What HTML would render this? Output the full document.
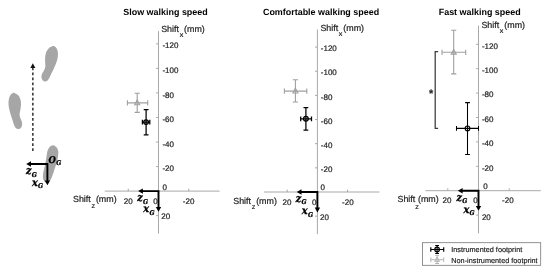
<!DOCTYPE html>
<html lang="en"><head><meta charset="utf-8"><title>Footprint shift by walking speed</title>
<style>
html,body{margin:0;padding:0;background:#fff;}
svg{display:block;text-rendering:geometricPrecision;}
text{font-family:"Liberation Sans",sans-serif;fill:#262626;stroke:#262626;stroke-width:0.22px;}
.t text,.t{font-size:8.0px;}
.l{font-size:8.9px;}
.h{font-size:8.95px;font-weight:bold;fill:#000;stroke:none;}
.g{font-size:7.3px;fill:#111;stroke-width:0.15px;}
.m{font-family:"DejaVu Serif Condensed","DejaVu Serif","Liberation Serif",serif;font-style:italic;font-weight:bold;fill:#000;stroke:#000;stroke-width:0.3px;}
.c{font-family:"DejaVu Serif Condensed","DejaVu Serif","Liberation Serif",serif;}
</style></head><body>
<svg width="550" height="275" viewBox="0 0 550 275">
<rect width="550" height="275" fill="#fff"/>
<!-- footprints and walking direction -->
<path d="M53.26 46.1C52.17 46.27 50.04 47.09 48.86 48.13C47.68 49.17 46.79 50.9 46.18 52.31C45.57 53.73 45.38 55.13 45.2 56.62C45.02 58.11 45.07 59.88 45.09 61.25C45.11 62.61 45.3 63.8 45.32 64.81C45.34 65.82 45.39 66.42 45.19 67.31C44.98 68.21 44.56 69.25 44.1 70.2C43.63 71.14 42.83 72.14 42.41 73C42 73.85 41.75 74.46 41.6 75.31C41.45 76.16 41.32 77.26 41.53 78.12C41.73 78.99 42.25 79.97 42.82 80.52C43.39 81.06 44.19 81.36 44.92 81.4C45.66 81.45 46.47 81.41 47.22 80.8C47.98 80.2 48.79 78.89 49.44 77.77C50.1 76.65 50.52 75.36 51.15 74.06C51.77 72.77 52.57 71.33 53.2 70C53.83 68.67 54.37 67.46 54.93 66.09C55.5 64.72 56.16 63.23 56.62 61.78C57.08 60.33 57.5 58.87 57.71 57.38C57.93 55.9 58.02 54.21 57.91 52.87C57.8 51.53 57.48 50.29 57.07 49.33C56.66 48.37 56.09 47.63 55.45 47.09C54.82 46.56 54.36 45.92 53.26 46.1Z" fill="#a6a6a6"/>
<path d="M14.4 92.9C15.47 93.22 17.47 94.32 18.5 95.5C19.53 96.68 20.18 98.52 20.6 100C21.02 101.48 21.02 102.9 21 104.4C20.98 105.9 20.7 107.65 20.5 109C20.3 110.35 19.95 111.5 19.8 112.5C19.65 113.5 19.52 114.08 19.6 115C19.68 115.92 19.97 117 20.3 118C20.63 119 21.3 120.1 21.6 121C21.9 121.9 22.07 122.53 22.1 123.4C22.13 124.27 22.12 125.37 21.8 126.2C21.48 127.03 20.83 127.93 20.2 128.4C19.57 128.87 18.73 129.05 18 129C17.27 128.95 16.47 128.8 15.8 128.1C15.13 127.4 14.5 126 14 124.8C13.5 123.6 13.25 122.27 12.8 120.9C12.35 119.53 11.75 118 11.3 116.6C10.85 115.2 10.48 113.93 10.1 112.5C9.72 111.07 9.27 109.5 9 108C8.73 106.5 8.52 105 8.5 103.5C8.48 102 8.62 100.32 8.9 99C9.18 97.68 9.67 96.5 10.2 95.6C10.73 94.7 11.4 94.05 12.1 93.6C12.8 93.15 13.33 92.58 14.4 92.9Z" fill="#a6a6a6"/>
<path d="M53.5 145.2C54.38 145.45 55.73 146.4 56.5 147.3C57.27 148.2 57.8 149.57 58.1 150.6C58.4 151.63 58.35 152.27 58.3 153.5C58.25 154.73 58.08 156.42 57.8 158C57.52 159.58 57.08 161.33 56.6 163C56.12 164.67 55.38 166.5 54.9 168C54.42 169.5 54.08 170.83 53.7 172C53.32 173.17 53.02 173.92 52.6 175C52.18 176.08 51.75 177.42 51.2 178.5C50.65 179.58 50.03 180.78 49.3 181.5C48.57 182.22 47.58 182.75 46.8 182.8C46.02 182.85 45.2 182.43 44.6 181.8C44 181.17 43.47 180.13 43.2 179C42.93 177.87 42.93 176.33 43 175C43.07 173.67 43.3 172.5 43.6 171C43.9 169.5 44.43 167.67 44.8 166C45.17 164.33 45.5 162.67 45.8 161C46.1 159.33 46.35 157.58 46.6 156C46.85 154.42 46.9 152.87 47.3 151.5C47.7 150.13 48.35 148.75 49 147.8C49.65 146.85 50.45 146.23 51.2 145.8C51.95 145.37 52.62 144.95 53.5 145.2Z" fill="#a6a6a6"/>
<path d="M32.85 151.0V67" stroke="#2e2e2e" stroke-width="1.5" stroke-dasharray="2.8 2.25" fill="none"/>
<path d="M32.85 63.3l2.5 4.7h-5z" fill="#111"/>
<g stroke="#000" stroke-width="1.9" fill="#000"><path d="M48.35 164H29.2M47.4 164V182.3" fill="none"/><path stroke="none" d="M26.2 164l4.8 -2.7v5.4z"/><path stroke="none" d="M47.4 185.3l-2.7 -4.8h5.4z"/></g>
<text x="48.6" y="163.0" class="m c" font-size="9.4">O<tspan font-size="6.6" dy="2.3" dx="0.3">G</tspan></text>
<text x="26.0" y="174.2" class="m" font-size="10.8">z<tspan font-size="6.6" dy="2.3" dx="0.3">G</tspan></text>
<text x="31.9" y="185.5" class="m" font-size="10.8">x<tspan font-size="6.6" dy="2.3" dx="0.3">G</tspan></text>
<!-- panel 1 -->
<g stroke="#a8a8a8" stroke-width="1" fill="none"><path d="M158.5 31.2V233.6M104.8 191.1H219.6"/><path d="M156.1 43.85H158.5M156.1 68.39H158.5M156.1 92.93H158.5M156.1 117.47H158.5M156.1 142.02H158.5M156.1 166.56H158.5M156.1 215.64H158.5M128.24 188.7V191.1M188.76 188.7V191.1" stroke-width="1"/></g><g class="t"><text x="162.4" y="48.45">-120</text><text x="162.4" y="72.99">-100</text><text x="162.4" y="97.53">-80</text><text x="162.4" y="122.07">-60</text><text x="162.4" y="146.62">-40</text><text x="162.4" y="171.16">-20</text><text x="162.4" y="189.6">0</text><text x="161.3" y="219.4">20</text><text x="128.2" y="203.9" text-anchor="middle">20</text><text x="155.5" y="203.9" text-anchor="middle">0</text><text x="188.6" y="203.9" text-anchor="middle">-20</text></g><text class="l" x="161.2" y="31.75">Shift<tspan font-size="7.1" dy="5" dx="0.7">x</tspan><tspan dy="-5" dx="0.9">(mm)</tspan></text><text class="l" x="73.0" y="202.0">Shift<tspan font-size="7.1" dy="5.5" dx="0.7">z</tspan><tspan dy="-5.5" dx="0.9">(mm)</tspan></text><text class="h" x="165.5" y="15.05" text-anchor="middle">Slow walking speed</text><g stroke="#a0a0a0" stroke-width="1.1" fill="none"><path d="M127.4 102.9H147.7M127.4 100.3V105.5M147.7 100.3V105.5"/><path d="M137.2 93.3V112.4M134.6 93.3H139.8M134.6 112.4H139.8"/><path d="M134.7 104.78L137.2 100.03L139.7 104.78Z"/></g><g stroke="#000" stroke-width="1.25" fill="none"><path d="M142.4 122.1H149.8M142.4 119.7V124.5M149.8 119.7V124.5"/><path d="M146.1 109.6V134.8M143.7 109.6H148.5M143.7 134.8H148.5"/><circle cx="146.1" cy="122.1" r="2.35"/></g><g stroke="#000" stroke-width="1.9" fill="#000"><path d="M159.45 191.1H141.1M158.5 191.1V208.7" fill="none"/><path stroke="none" d="M138.1 191.1l4.8 -2.7v5.4z"/><path stroke="none" d="M158.5 211.7l-2.7 -4.8h5.4z"/></g><text x="137.3" y="201.2" class="m" font-size="10.8">z<tspan font-size="6.6" dy="2.3" dx="0.3">G</tspan></text><text x="143.3" y="212.3" class="m" font-size="10.8">x<tspan font-size="6.6" dy="2.3" dx="0.3">G</tspan></text>
<!-- panel 2 -->
<g stroke="#a8a8a8" stroke-width="1" fill="none"><path d="M317.4 29.4V234.0M264.0 192.0H379.4"/><path d="M315 47.1H317.4M315 71.25H317.4M315 95.4H317.4M315 119.55H317.4M315 143.7H317.4M315 167.85H317.4M315 216.15H317.4M287.24 189.6V192.0M347.56 189.6V192.0" stroke-width="1"/></g><g class="t"><text x="320.8" y="51.3">-120</text><text x="320.8" y="75.45">-100</text><text x="320.8" y="99.6">-80</text><text x="320.8" y="123.75">-60</text><text x="320.8" y="147.9">-40</text><text x="320.8" y="172.05">-20</text><text x="320.6" y="190.2">0</text><text x="320.1" y="220.0">20</text><text x="287.0" y="204.85" text-anchor="middle">20</text><text x="314.2" y="204.85" text-anchor="middle">0</text><text x="347.8" y="204.85" text-anchor="middle">-20</text></g><text class="l" x="320.4" y="31.0">Shift<tspan font-size="7.1" dy="5" dx="0.7">x</tspan><tspan dy="-5" dx="0.9">(mm)</tspan></text><text class="l" x="233.25" y="203.5">Shift<tspan font-size="7.1" dy="5.5" dx="0.7">z</tspan><tspan dy="-5.5" dx="0.9">(mm)</tspan></text><text class="h" x="321.05" y="15.05" text-anchor="middle">Comfortable walking speed</text><g stroke="#a0a0a0" stroke-width="1.1" fill="none"><path d="M284.4 91.1H306.8M284.4 88.5V93.7M306.8 88.5V93.7"/><path d="M295.4 79.8V102M292.8 79.8H298M292.8 102H298"/><path d="M292.9 92.97L295.4 88.22L297.9 92.97Z"/></g><g stroke="#000" stroke-width="1.25" fill="none"><path d="M300.7 118.8H311.5M300.7 116.4V121.2M311.5 116.4V121.2"/><path d="M305.9 107.5V130.2M303.5 107.5H308.3M303.5 130.2H308.3"/><circle cx="305.9" cy="118.8" r="2.35"/></g><g stroke="#000" stroke-width="1.9" fill="#000"><path d="M318.35 192H299.7M317.4 192V209.4" fill="none"/><path stroke="none" d="M296.7 192l4.8 -2.7v5.4z"/><path stroke="none" d="M317.4 212.4l-2.7 -4.8h5.4z"/></g><text x="295.8" y="202.1" class="m" font-size="10.8">z<tspan font-size="6.6" dy="2.3" dx="0.3">G</tspan></text><text x="301.8" y="214.2" class="m" font-size="10.8">x<tspan font-size="6.6" dy="2.3" dx="0.3">G</tspan></text>
<!-- panel 3 -->
<g stroke="#a8a8a8" stroke-width="1" fill="none"><path d="M478.5 25.7V233.3M425.3 190.7H540.8"/><path d="M476.1 44.3H478.5M476.1 68.7H478.5M476.1 93.1H478.5M476.1 117.5H478.5M476.1 141.9H478.5M476.1 166.3H478.5M476.1 215.1H478.5M447.8 188.3V190.7M509.2 188.3V190.7" stroke-width="1"/></g><g class="t"><text x="481.9" y="48.5">-120</text><text x="481.9" y="72.9">-100</text><text x="481.9" y="97.3">-80</text><text x="481.9" y="121.7">-60</text><text x="481.9" y="146.1">-40</text><text x="481.9" y="170.5">-20</text><text x="483.3" y="188.7">0</text><text x="481.9" y="220.0">20</text><text x="447.0" y="203.3" text-anchor="middle">20</text><text x="475.5" y="203.3" text-anchor="middle">0</text><text x="507.9" y="203.3" text-anchor="middle">-20</text></g><text class="l" x="481.4" y="27.5">Shift<tspan font-size="7.1" dy="5" dx="0.7">x</tspan><tspan dy="-5" dx="0.9">(mm)</tspan></text><text class="l" x="397.5" y="202.1">Shift<tspan font-size="7.1" dy="6.5" dx="0.1">z</tspan><tspan dy="-6.5" dx="-0.9">(mm)</tspan></text><text class="h" x="479.7" y="15.1" text-anchor="middle">Fast walking speed</text><g stroke="#a0a0a0" stroke-width="1.1" fill="none"><path d="M442 52.3H465.7M442 49.7V54.9M465.7 49.7V54.9"/><path d="M453.7 30.2V73.9M451.1 30.2H456.3M451.1 73.9H456.3"/><path d="M451.2 54.17L453.7 49.42L456.2 54.17Z"/></g><g stroke="#000" stroke-width="1.05" fill="none"><path d="M456.5 128.4H478.5M456.5 126V130.8M478.5 126V130.8"/><path d="M467.5 102.6V154.4M465.1 102.6H469.9M465.1 154.4H469.9"/><circle cx="467.5" cy="128.4" r="2.35"/></g><g stroke="#000" stroke-width="1.9" fill="#000"><path d="M479.45 190.7H460.8M478.5 190.7V207.7" fill="none"/><path stroke="none" d="M457.8 190.7l4.8 -2.7v5.4z"/><path stroke="none" d="M478.5 210.7l-2.7 -4.8h5.4z"/></g><text x="456.4" y="200.8" class="m" font-size="10.8">z<tspan font-size="6.6" dy="2.3" dx="0.3">G</tspan></text><text x="463.4" y="212.7" class="m" font-size="10.8">x<tspan font-size="6.6" dy="2.3" dx="0.3">G</tspan></text>
<!-- significance bracket -->
<path d="M438.1 51.5H435.2V128.4H438.1" stroke="#3a3a3a" stroke-width="1.25" fill="none"/>
<text x="431.0" y="96.5" text-anchor="middle" font-size="10.8" font-weight="bold" fill="#111" stroke="none">*</text>
<!-- legend -->
<rect x="422.5" y="242.7" width="118.2" height="22.6" fill="#fff" stroke="#777" stroke-width="0.8"/>
<g stroke="#000" stroke-width="1.2" fill="none"><path d="M430.8 249.5H443.7M430.8 247.2V251.8M443.7 247.2V251.8"/><path d="M437.1 245.5V253.5M435.2 245.5H439M435.2 253.5H439"/><circle cx="437.1" cy="249.5" r="2.3"/></g>
<g stroke="#b4b4b4" stroke-width="1.0" fill="none"><path d="M430.8 259.7H443.7M430.8 257.4V262M443.7 257.4V262"/><path d="M437.1 255.4V263.5M435.2 255.4H439M435.2 263.5H439"/><path d="M434.8 261.43L437.1 257.06L439.4 261.43Z"/></g>
<text class="g" x="451.25" y="252.3">Instrumented footprint</text>
<text class="g" x="451.25" y="262.5">Non-instrumented footprint</text>
</svg>
</body></html>
